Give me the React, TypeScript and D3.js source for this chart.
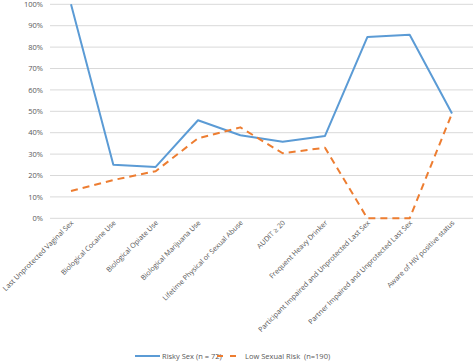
import React from 'react'
import * as d3 from 'd3'

const categories = [
  'Last Unprotected Vaginal Sex',
  'Biological Cocaine Use',
  'Biological Opiate Use',
  'Biological Marijuana Use',
  'Lifetime Physical or Sexual Abuse',
  'AUDIT \u2265 20',
  'Frequent Heavy Drinker',
  'Participant Impaired and Unprotected Last Sex',
  'Partner Impaired and Unprotected Last Sex',
  'Aware of HIV positive status',
]
const riskySex = [100, 25, 24, 45.8, 38.8, 35.8, 38.5, 84.7, 85.8, 49]
const lowRisk = [12.8, 17.9, 22, 37.4, 42.5, 30.4, 33, 0, 0, 49]
const yTicks = [0, 10, 20, 30, 40, 50, 60, 70, 80, 90, 100]

const W = 474
const H = 362
const FONT = "'Open Sans', 'Liberation Sans', sans-serif"

export default function App() {
  const x = d3.scalePoint<string>().domain(categories).range([71, 452])
  const y = d3.scaleLinear().domain([0, 100]).range([218.3, 4.3])

  const line = d3
    .line<number>()
    .x((d, i) => x(categories[i]) as number)
    .y((d) => y(d))

  return (
    <svg
      width={W}
      height={H}
      style={{position: 'absolute', left: 0, top: 0, background: '#fff'}}
      fontFamily={FONT}
    >
      {/* grid + y labels */}
      {yTicks.map((t) => (
        <g key={t}>
          <line x1={50} x2={473} y1={y(t)} y2={y(t)} stroke="#d9d9d9" strokeWidth={1} />
          <text x={43} y={y(t)} dy="0.35em" textAnchor="end" fontSize={7.5} fill="#595959">
            {t}%
          </text>
        </g>
      ))}

      {/* category labels */}
      {categories.map((c) => (
        <text
          key={c}
          transform={`translate(${(x(c) as number) + 3},${y(0) + 5}) rotate(-45)`}
          textAnchor="end"
          fontSize={7.1}
          fill="#595959"
        >
          {c}
        </text>
      ))}

      <path d={line(riskySex) || ''} fill="none" stroke="#5b9bd5" strokeWidth={2} strokeLinejoin="round" />
      <path
        d={line(lowRisk) || ''}
        fill="none"
        stroke="#ed7d31"
        strokeWidth={2}
        strokeDasharray="7,5"
        strokeLinejoin="round"
      />

      {/* legend */}
      <line x1={135} x2={160} y1={356} y2={356} stroke="#5b9bd5" strokeWidth={2} />
      <text x={162} y={356} dy="0.35em" fontSize={7.5} fill="#595959">
        Risky Sex (n = 72)
      </text>
      <line x1={217} x2={236} y1={356} y2={356} stroke="#ed7d31" strokeWidth={2} strokeDasharray="6,7" />
      <text x={245} y={356} dy="0.35em" fontSize={7.5} fill="#595959" style={{whiteSpace: 'pre'}}>
        {'Low Sexual Risk  (n=190)'}
      </text>
    </svg>
  )
}
